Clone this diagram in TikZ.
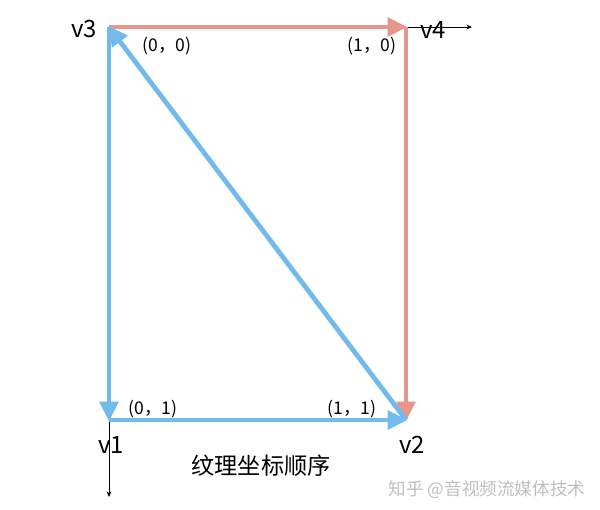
\documentclass[tikz,border=0pt]{standalone}
\usepackage{fontspec}
\setmainfont{Noto Sans CJK SC}
\usetikzlibrary{arrows.meta,positioning}
\definecolor{SkyBlue}{RGB}{112,186,236}
\definecolor{Salmon}{RGB}{232,150,140}
\tikzset{
	bluearr/.style={draw=SkyBlue,line width=3.4pt,
		-{Triangle[length=14pt,width=13pt]},shorten >=-1pt},
	pinkarr/.style={draw=Salmon,line width=3.4pt,
		-{Triangle[length=14pt,width=13pt]},shorten >=-1pt},
	axis/.style={draw=black,line width=0.6pt,-{Stealth[length=4pt,width=3.5pt]}},
	vlab/.style={font=\fontsize{17}{17}\selectfont},
	clab/.style={font=\fontsize{12.5}{12.5}\selectfont}
}
\begin{document}
\begin{tikzpicture}[x=0.025cm,y=-0.025cm]
			\useasboundingbox (0,0) rectangle (600,510);
			\coordinate (v3) at (109,27);
			\coordinate (v4) at (406,27);
			\coordinate (v1) at (109,420);
			\coordinate (v2) at (406,420);
			\coordinate (xend) at (472,27);
			\coordinate (yend) at (109,497);
			% axes
			\draw[axis] (v4) -- (xend);
			\draw[axis] (v1) -- (yend);
			% triangle strip
			\draw[pinkarr] (v3) -- (v4);
			\draw[pinkarr] (v4) -- (v2);
			\draw[bluearr] (v3) -- (v1);
			\draw[bluearr] (v1) -- (v2);
			\draw[bluearr] (v2) -- (v3);
			% labels
			\node[vlab] (l3) at (84,29) {v3};
			\node[vlab] (l4) at (433,30) {v4};
			\node[vlab] (l1) at (111,445) {v1};
			\node[vlab] (l2) at (412,445) {v2};
			\node[clab] (c00) at (167,46) {(0，0)};
			\node[clab] (c10) at (372,46) {(1，0)};
			\node[clab] (c01) at (153,409) {(0，1)};
			\node[clab] (c11) at (352,409) {(1，1)};
			\node[font=\fontsize{16.5}{16.5}\selectfont] (title) at (261,466) {纹理坐标顺序};
			\node[font=\fontsize{12.5}{12.5}\selectfont,text=black!25] (mark) at (487,490) {知乎 @音视频流媒体技术};
			\end{tikzpicture}
\end{document}
